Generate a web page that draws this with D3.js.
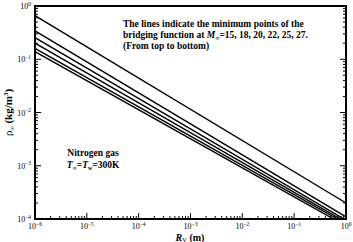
<!DOCTYPE html>
<html>
<head>
<meta charset="utf-8">
<script src="https://cdn.jsdelivr.net/npm/d3@7"></script>
<style>
  body { margin: 0; background: #fff; }
  text { font-family: "Liberation Serif", "DejaVu Serif", serif; fill: #000; }
</style>
</head>
<body>
<div id="chart"></div>
<script>
// Mach numbers of the six lines (top to bottom)
var machNumbers = [15, 18, 20, 22, 25, 27];
// end points of each line: R_V (m) and rho (kg/m^3)
var radiusEnds = [1e-6, 1e0];
var rhoStart = [0.657, 0.34, 0.254, 0.20, 0.16, 0.139];
var rhoEnd = [2.0e-4, 1.1e-4, 9.5e-5, 8.7e-5, 8.1e-5, 7.4e-5];
var xTickExp = [-6, -5, -4, -3, -2, -1, 0];
var yTickExp = [0, -1, -2, -3, -4];

var margin = {top: 6, right: 7, bottom: 23, left: 35};
var width = 353 - margin.left - margin.right;
var height = 242 - margin.top - margin.bottom;

var svg = d3.select("#chart").append("svg")
    .attr("width", 353)
    .attr("height", 242);

var g = svg.append("g")
    .attr("transform", "translate(" + margin.left + "," + margin.top + ")");

var x = d3.scaleLog().domain([1e-6, 1e0]).range([0, width]);
var y = d3.scaleLog().domain([1e-4, 1e0]).range([height, 0]);

g.append("clipPath").attr("id", "clip")
    .append("rect").attr("width", width).attr("height", height);

var lineData = machNumbers.map(function (m, i) {
    return [{r: radiusEnds[0], rho: rhoStart[i]}, {r: radiusEnds[1], rho: rhoEnd[i]}];
});

var line = d3.line()
    .x(function (d) { return x(d.r); })
    .y(function (d) { return y(d.rho); });

g.append("g").attr("clip-path", "url(#clip)")
    .selectAll("path")
    .data(lineData)
    .enter().append("path")
    .attr("d", line)
    .attr("fill", "none")
    .attr("stroke", "#000")
    .attr("stroke-width", 1.4);

// minor ticks for log axes
function logTicks(lo, hi) {
    var t = [];
    for (var e = lo; e < hi; e++) {
        for (var k = 1; k < 10; k++) t.push(k * Math.pow(10, e));
    }
    t.push(Math.pow(10, hi));
    return t;
}
var xt = logTicks(-6, 0);
var yt = logTicks(-4, 0);
function isMajor(v) { return Math.abs(Math.log10(v) - Math.round(Math.log10(v))) < 1e-9; }

var ticks = g.append("g").attr("stroke", "#000").attr("stroke-width", 1);
// bottom
ticks.selectAll(".xb").data(xt).enter().append("line")
    .attr("x1", function (d) { return x(d); }).attr("x2", function (d) { return x(d); })
    .attr("y1", height).attr("y2", function (d) { return height - (isMajor(d) ? 6 : 3); });
// left
ticks.selectAll(".yl").data(yt).enter().append("line")
    .attr("y1", function (d) { return y(d); }).attr("y2", function (d) { return y(d); })
    .attr("x1", 0).attr("x2", function (d) { return isMajor(d) ? 6 : 3; });
// right
ticks.selectAll(".yr").data(yt).enter().append("line")
    .attr("y1", function (d) { return y(d); }).attr("y2", function (d) { return y(d); })
    .attr("x1", width).attr("x2", function (d) { return width - (isMajor(d) ? 6 : 3); });

g.append("rect")
    .attr("width", width).attr("height", height)
    .attr("fill", "none").attr("stroke", "#000").attr("stroke-width", 2);

// tick labels
g.selectAll(".xlab").data(xTickExp).enter().append("text")
    .attr("x", function (d) { return x(Math.pow(10, d)); })
    .attr("y", height + 10)
    .attr("text-anchor", "middle")
    .attr("font-size", 8)
    .each(function (d) {
        var t = d3.select(this);
        t.append("tspan").text("10");
        t.append("tspan").attr("dy", -3.5).attr("font-size", 5.5).text(d === 0 ? "0" : "\u2212" + (-d));
    });

g.selectAll(".ylab").data(yTickExp).enter().append("text")
    .attr("x", -4)
    .attr("y", function (d) { return y(Math.pow(10, d)) + 3; })
    .attr("text-anchor", "end")
    .attr("font-size", 8)
    .each(function (d) {
        var t = d3.select(this);
        t.append("tspan").text("10");
        t.append("tspan").attr("dy", -3.5).attr("font-size", 5.5).text(d === 0 ? "0" : "\u2212" + (-d));
    });

// axis titles
var xt2 = svg.append("text")
    .attr("x", 190).attr("y", 241)
    .attr("text-anchor", "middle")
    .attr("font-size", 10).attr("font-weight", "bold");
xt2.append("tspan").attr("font-style", "italic").text("R");
xt2.append("tspan").attr("font-size", 6.5).attr("font-weight", "normal").attr("dy", 1).text("V");
xt2.append("tspan").attr("dy", -1).text(" (m)");

var yt2 = svg.append("text")
    .attr("transform", "translate(12," + (margin.top + height / 2) + ") rotate(-90)")
    .attr("text-anchor", "middle")
    .attr("font-size", 11).attr("font-weight", "bold");
yt2.append("tspan").attr("font-weight", "normal").text("\u03c1");
yt2.append("tspan").attr("font-size", 6).attr("dy", 2).text("\u221e");
yt2.append("tspan").attr("dy", -2).text(" (kg/m");
yt2.append("tspan").attr("font-size", 7).attr("dy", -4).text("3");
yt2.append("tspan").attr("dy", 4).text(")");

// annotation
var note = svg.append("text")
    .attr("font-size", 9.5).attr("font-weight", "bold");
note.append("tspan").attr("x", 123).attr("y", 27).text("The lines indicate the minimum points of the");
note.append("tspan").attr("x", 123).attr("y", 38).text("bridging function at ");
note.append("tspan").attr("font-style", "italic").text("M");
note.append("tspan").attr("font-size", 6).attr("dy", 2).text("\u221e");
note.append("tspan").attr("dy", -2).text("=" + machNumbers.join(", ") + ".");
note.append("tspan").attr("x", 123).attr("y", 49).text("(From top to bottom)");

var gas = svg.append("text")
    .attr("font-size", 9.5).attr("font-weight", "bold").attr("text-anchor", "middle");
gas.append("tspan").attr("x", 93).attr("y", 156).text("Nitrogen gas");
var tl = svg.append("text")
    .attr("x", 93).attr("y", 168)
    .attr("font-size", 9.5).attr("font-weight", "bold").attr("text-anchor", "middle");
tl.append("tspan").attr("font-style", "italic").text("T");
tl.append("tspan").attr("font-size", 6).attr("dy", 2).text("\u221e");
tl.append("tspan").attr("dy", -2).text("=");
tl.append("tspan").attr("font-style", "italic").text("T");
tl.append("tspan").attr("font-size", 6).attr("dy", 2).text("w");
tl.append("tspan").attr("dy", -2).text("=300K");
</script>
</body>
</html>
